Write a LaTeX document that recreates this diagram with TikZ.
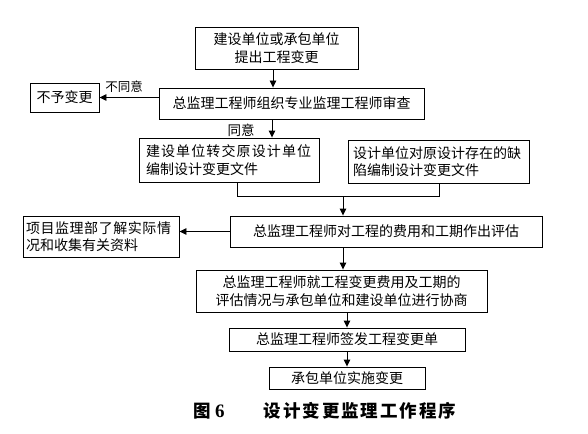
\documentclass[tikz,border=0pt]{standalone}
\usepackage{fontspec}
\setmainfont{Noto Sans CJK SC}
\newfontfamily\cjk{Noto Sans CJK SC}
\newfontfamily\numserif{Liberation Serif}
\usetikzlibrary{arrows.meta,calc}
\begin{document}
\begin{tikzpicture}[x=1pt,y=-1pt,
  box/.style={draw, line width=0.9pt, inner sep=0pt, font=\cjk\fontsize{14}{17.5}\selectfont, align=center},
  lbox/.style={box, align=left},
  arr/.style={line width=0.9pt, -{Triangle[width=6.5pt,length=7pt]}},
  ln/.style={line width=0.9pt},
  lab/.style={font=\cjk\fontsize{12.5}{14}\selectfont, inner sep=0pt}]
\useasboundingbox[fill=white] (0,0) rectangle (588,433);
% boxes
\node[box, minimum width=163pt, minimum height=42pt] (b1) at (276.5,48) {建设单位或承包单位\\提出工程变更};
\node[box, minimum width=265pt, minimum height=31pt] (b2) at (291.5,103.5) {总监理工程师组织专业监理工程师审查};
\node[box, minimum width=69pt, minimum height=29pt] (no) at (64.5,97.5) {不予变更};
\node[lbox, minimum width=180pt, minimum height=44pt, text width=166pt, inner xsep=7pt] (b3) at (229,160) {{\addfontfeature{LetterSpace=8}建设单位转交原设计单位}\\编制设计变更文件};
\node[lbox, minimum width=181pt, minimum height=43pt, text width=171pt, inner xsep=5pt] (b4) at (438.5,161.5) {设计单位对原设计存在的缺\\陷编制设计变更文件};
\node[box, minimum width=312pt, minimum height=31pt] (b5) at (386,231.5) {总监理工程师对工程的费用和工期作出评估};
\node[lbox, minimum width=156pt, minimum height=41pt, text width=150pt, inner xsep=3pt] (bl) at (101,236.5) {{\addfontfeature{LetterSpace=4}项目监理部了解实际情}\\况和收集有关资料};
\node[box, minimum width=291pt, minimum height=42pt] (b6) at (341.5,291) {总监理工程师就工程变更费用及工期的\\评估情况与承包单位和建设单位进行协商};
\node[box, minimum width=236pt, minimum height=23pt] (b7) at (347,339.5) {总监理工程师签发工程变更单};
\node[box, minimum width=156pt, minimum height=22pt] (b8) at (347,378) {承包单位实施变更};
% helper coordinates
\coordinate (xa) at (273,0);
\coordinate (xb) at (272,0);
\coordinate (xc) at (237,0);
\coordinate (xd) at (439,0);
\coordinate (xe) at (343,0);
\coordinate (xf) at (347,0);
\coordinate (my) at (0,196);
\coordinate (m3) at (xc |- my);
\coordinate (m4) at (xd |- my);
\coordinate (mm) at (xe |- my);
% connectors
\draw[arr] (xa |- b1.south) -- (xa |- b2.north);
\draw[arr] (b2.west |- no.east) -- (no.east);
\node[lab] (l1) at (124,87) {不同意};
\draw[arr] (xb |- b2.south) -- (xb |- b3.north);
\node[lab, font=\cjk\fontsize{13.5}{15}\selectfont] (l2) at (241,130) {同意};
\draw[ln] (xc |- b3.south) -- (m3) -- (m4) -- (xd |- b4.south);
\draw[arr] (mm) -- (xe |- b5.north);
\draw[arr] (b5.west) -- (bl.east |- b5.west);
\draw[arr] (xe |- b5.south) -- (xe |- b6.north);
\draw[arr] (xf |- b6.south) -- (xf |- b7.north);
\draw[arr] (xf |- b7.south) -- (xf |- b8.north);
% caption
\node[font=\cjk\bfseries\fontsize{17.5}{20}\selectfont, inner sep=0pt] (c1) at (209,411) {图 {\numserif\bfseries\fontsize{19}{20}\selectfont 6}};
\node[font=\cjk\bfseries\fontsize{17.5}{20}\selectfont\addfontfeature{LetterSpace=11}, inner sep=0pt] (c2) at (360,411) {设计变更监理工作程序};
\end{tikzpicture}
\end{document}
